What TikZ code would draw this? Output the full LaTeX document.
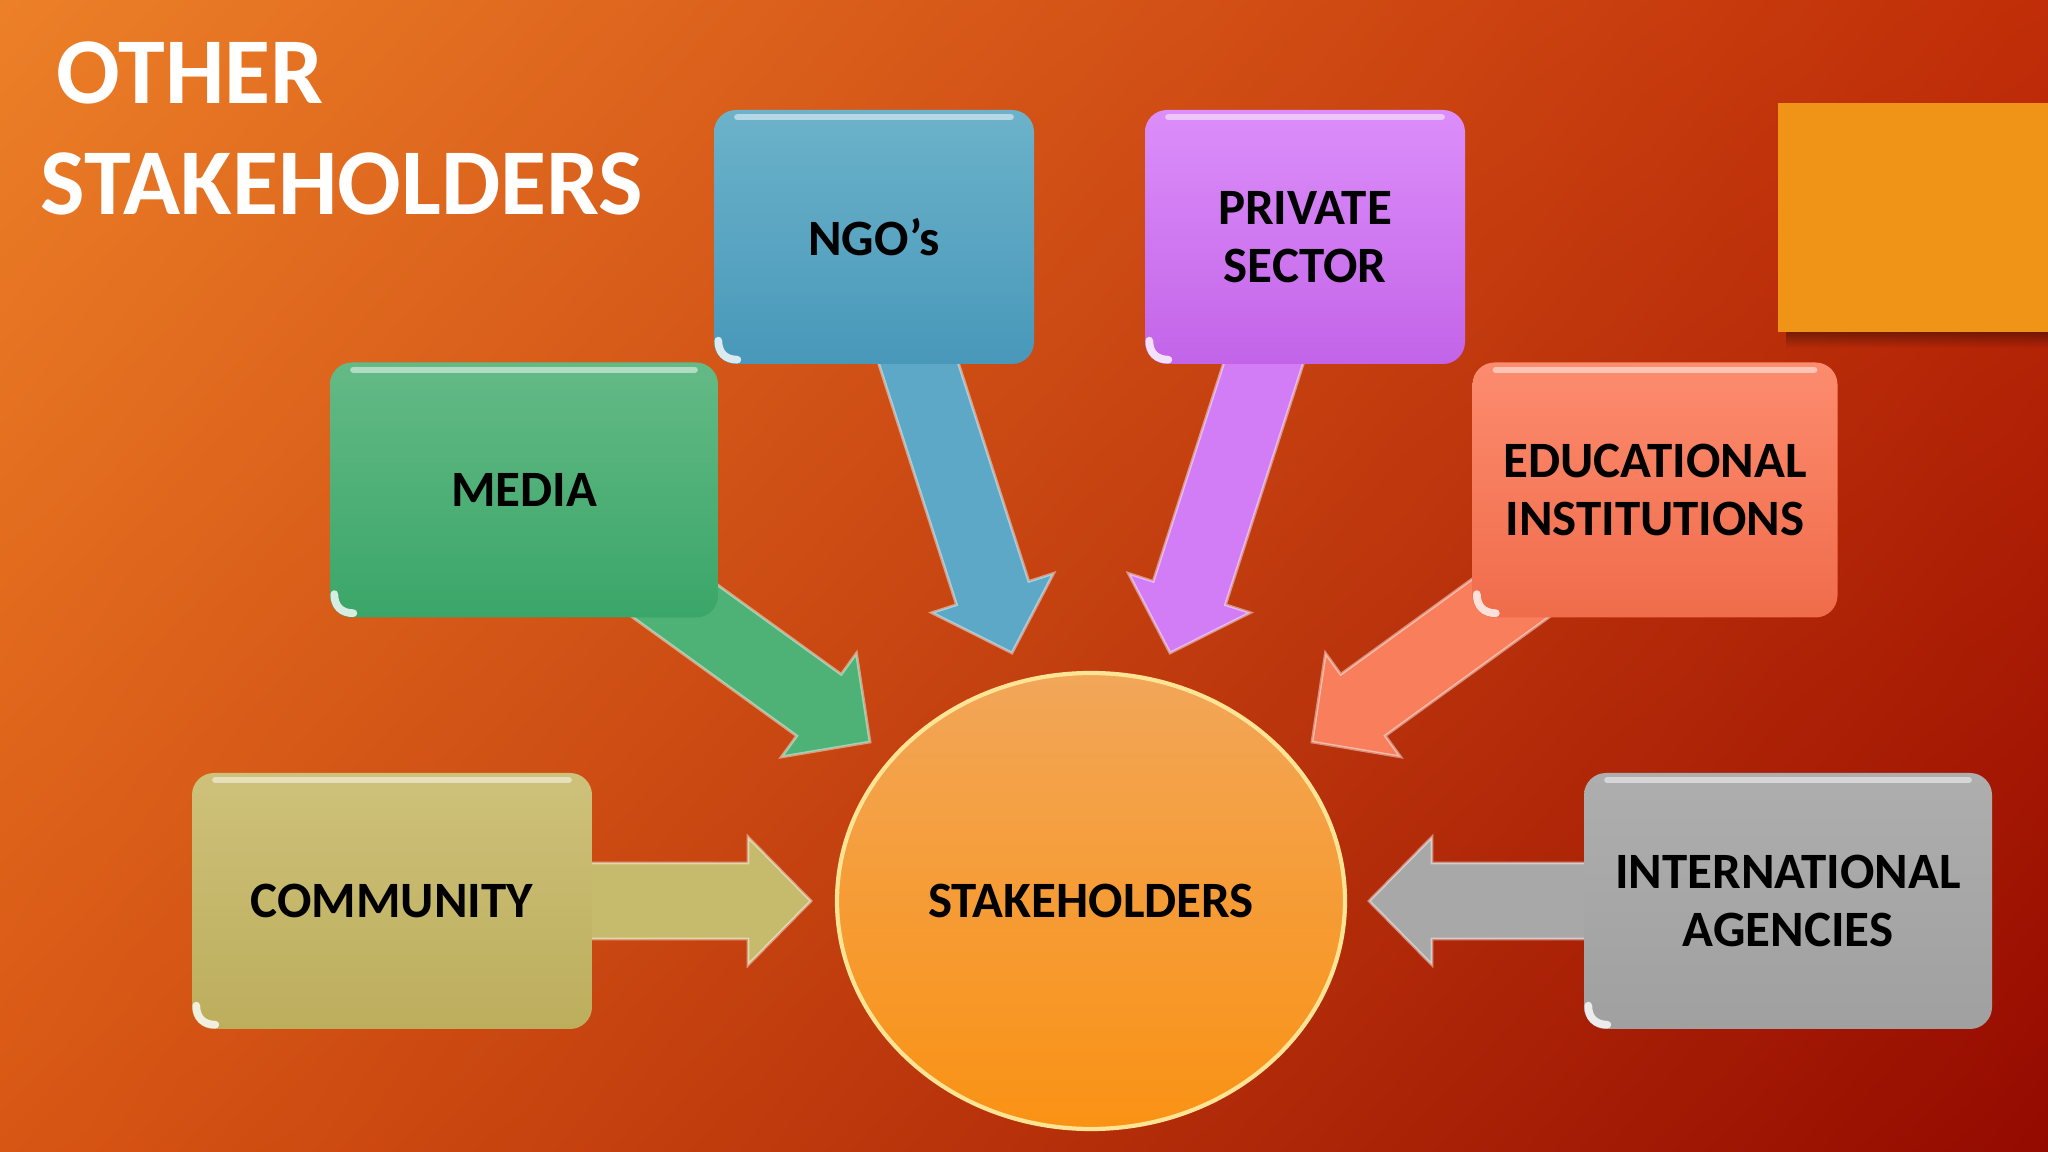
\documentclass[tikz,border=0pt]{standalone}
\usepackage{fontspec}
\setmainfont{Carlito}
\usetikzlibrary{calc,shapes.geometric,fadings,shadings}
\pgfdeclarelayer{back}
\pgfdeclarelayer{arrows}
\pgfsetlayers{back,arrows,main}
\definecolor{bgTL}{RGB}{236,128,40}
\definecolor{bgTR}{RGB}{192,45,8}
\definecolor{bgBL}{RGB}{216,86,20}
\definecolor{bgBR}{RGB}{148,10,0}
\definecolor{sqC}{RGB}{240,148,24}
\definecolor{ngoT}{RGB}{108,178,202}
\definecolor{ngoB}{RGB}{72,152,186}
\definecolor{ngoA}{RGB}{92,168,198}
\definecolor{privT}{RGB}{220,142,250}
\definecolor{privB}{RGB}{195,100,232}
\definecolor{privA}{RGB}{210,125,245}
\definecolor{medT}{RGB}{100,186,134}
\definecolor{medB}{RGB}{58,166,104}
\definecolor{medA}{RGB}{78,178,118}
\definecolor{eduT}{RGB}{252,140,110}
\definecolor{eduB}{RGB}{240,108,75}
\definecolor{eduA}{RGB}{248,126,92}
\definecolor{comT}{RGB}{206,193,122}
\definecolor{comB}{RGB}{188,174,92}
\definecolor{comA}{RGB}{198,186,108}
\definecolor{intT}{RGB}{174,174,174}
\definecolor{intB}{RGB}{160,160,160}
\definecolor{intA}{RGB}{168,168,168}
\definecolor{hubT}{RGB}{242,166,88}
\definecolor{hubB}{RGB}{250,146,20}
\definecolor{hubRim}{RGB}{255,228,150}
\tikzset{
  stbox/.style 2 args={rectangle, rounded corners=2.2mm, top color=#1, bottom color=#2,
    draw=none, align=center, text=black, inner sep=0pt,
    font=\fontsize{14.5}{16.5}\selectfont\bfseries},
  hubstyle/.style={ellipse, top color=hubT, bottom color=hubB, draw=hubRim, line width=1.2pt,
    minimum width=50.8mm, minimum height=45.6mm, inner sep=0pt, text=black,
    font=\fontsize{14.5}{16.5}\selectfont\bfseries},
  titletext/.style={text=white, inner sep=0pt, font=\fontsize{26.8}{32}\selectfont\bfseries},
  arrowfill/.style={fill=#1, draw=white, draw opacity=.45, line width=.8pt, line join=miter}
}
\newcommand\gloss[1]{%
  \draw[white,opacity=.5,line width=1.8pt,line cap=round]
    ($(#1.north west)+(24,8)$) -- ($(#1.north east)+(-24,8)$);
  \draw[white,opacity=.8,line width=2.2pt,line cap=round]
    ($(#1.south west)+(5,-24)$) .. controls ($(#1.south west)+(5,-12)$) and ($(#1.south west)+(12,-5)$) .. ($(#1.south west)+(24,-5)$);
}
\newcommand\blockarrow[3]{%
  \coordinate (bh) at ($(#3)!6.3mm!(#2)$);
  \filldraw[arrowfill=#1] ($(#2)!3.8mm!90:(#3)$) -- ($(bh)!3.8mm!90:(#3)$) -- ($(bh)!6.4mm!90:(#3)$)
    -- (#3) -- ($(bh)!6.4mm!-90:(#3)$) -- ($(bh)!3.8mm!-90:(#3)$) -- ($(#2)!3.8mm!-90:(#3)$) -- cycle;
}
\begin{document}
\begin{tikzpicture}[x=0.1mm,y=-0.1mm]
\useasboundingbox (0,0) rectangle (2048,1152);
\begin{pgfonlayer}{back}
  \shade[upper left=bgTL, upper right=bgTR, lower left=bgBL, lower right=bgBR] (0,0) rectangle (2048,1152);
  \fill[black,opacity=.4,path fading=south] (1786,330) rectangle (2048,348);
  \fill[sqC] (1778,103) rectangle (2048,332);
\end{pgfonlayer}

\node[titletext, anchor=base west] (t1) at (56,104) {OTHER};
\node[titletext, anchor=base west] (t2) at (40,215) {STAKEHOLDERS};

\node[stbox={ngoT}{ngoB}, minimum width=32mm, minimum height=25.4mm] (ngo) at (874,237) {NGO’s};
\node[stbox={privT}{privB}, minimum width=32mm, minimum height=25.4mm] (priv) at (1305,237) {PRIVATE\\SECTOR};
\node[stbox={medT}{medB}, minimum width=38.8mm, minimum height=25.5mm] (media) at (524,490) {MEDIA};
\node[stbox={eduT}{eduB}, minimum width=36.5mm, minimum height=25.5mm] (edu) at (1655,490) {EDUCATIONAL\\INSTITUTIONS};
\node[stbox={comT}{comB}, minimum width=40mm, minimum height=25.6mm] (comm) at (392,901) {COMMUNITY};
\node[stbox={intT}{intB}, minimum width=40.8mm, minimum height=25.6mm] (intl) at (1788,901) {INTERNATIONAL\\AGENCIES};
\node[hubstyle] (hub) at (1091,901) {STAKEHOLDERS};

\foreach \b in {ngo,priv,media,edu,comm,intl} {\gloss{\b}}

\coordinate (tM) at ($(hub.center)+(-221,-159)$);
\coordinate (tN) at ($(hub.center)+(-79,-248)$);
\coordinate (tP) at ($(hub.center)+(79,-248)$);
\coordinate (tE) at ($(hub.center)+(221,-159)$);
\coordinate (tC) at ($(hub.center)+(-280,0)$);
\coordinate (tI) at ($(hub.center)+(278,0)$);

\coordinate (sM) at ($(media.south east)+(-78,-42)$);
\coordinate (sN) at ($(ngo.south)+(34,-34)$);
\coordinate (sP) at ($(priv.south)+(-31,-34)$);
\coordinate (sE) at ($(edu.south west)+(69,-42)$);
\coordinate (sC) at ($(comm.east)+(-40,0)$);
\coordinate (sI) at ($(intl.west)+(40,0)$);

\begin{pgfonlayer}{arrows}
  \blockarrow{medA}{sM}{tM}
  \blockarrow{ngoA}{sN}{tN}
  \blockarrow{privA}{sP}{tP}
  \blockarrow{eduA}{sE}{tE}
  \blockarrow{comA}{sC}{tC}
  \blockarrow{intA}{sI}{tI}
\end{pgfonlayer}
\end{tikzpicture}
\end{document}
